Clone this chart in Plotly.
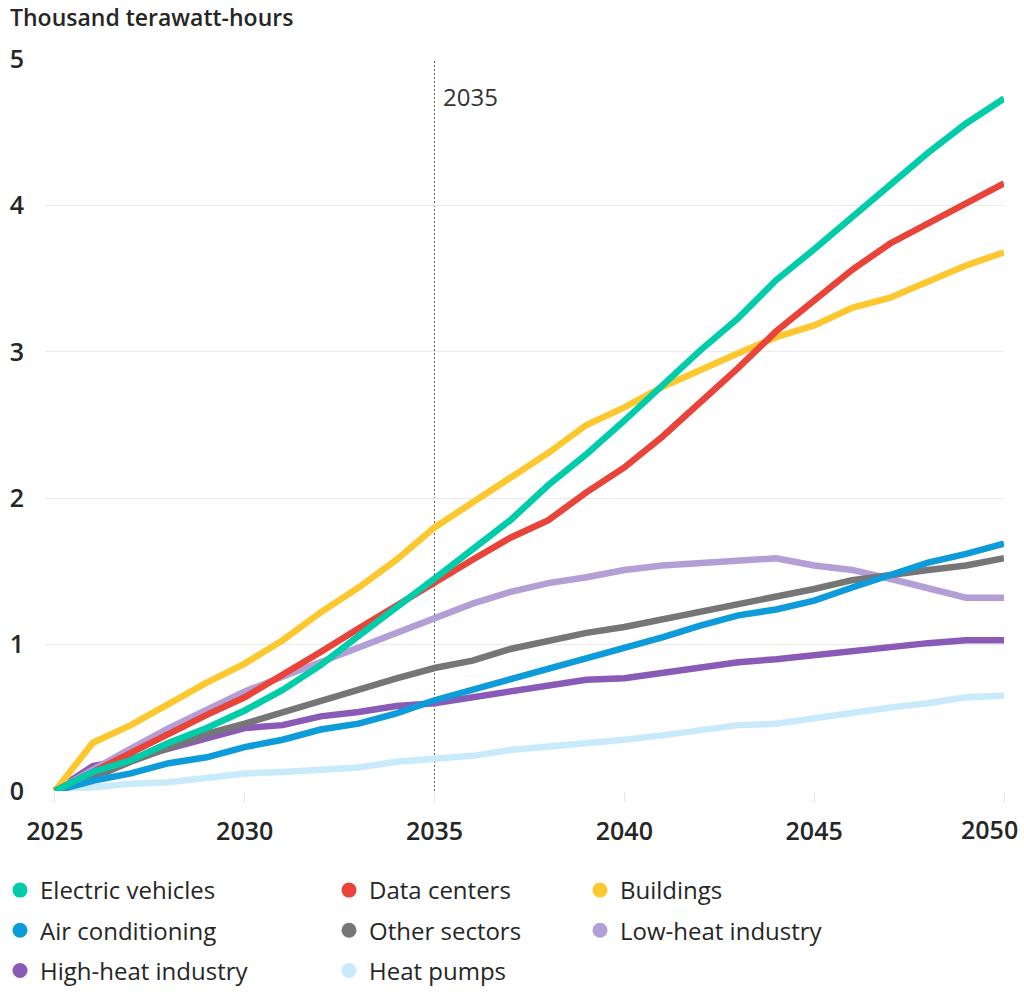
import plotly.graph_objects as go

years = list(range(2025, 2051))
tick_years = [2025, 2030, 2035, 2040, 2045, 2050]
tick_labels = ["2025", "2030", "2035", "2040", "2045", ""]   # 2050 label drawn as annotation (kept inside page)
y_ticks = [0, 1, 2, 3, 4, 5]

electric_vehicles = [0, 0.13, 0.21, 0.33, 0.43, 0.55, 0.69, 0.86, 1.06, 1.25, 1.45, 1.65, 1.85, 2.09, 2.30, 2.53,
                     2.77, 3.01, 3.23, 3.49, 3.70, 3.92, 4.14, 4.36, 4.56, 4.73]
data_centers = [0, 0.13, 0.27, 0.39, 0.52, 0.64, 0.79, 0.95, 1.11, 1.27, 1.42, 1.58, 1.73, 1.85, 2.04, 2.21,
                2.42, 2.65, 2.89, 3.14, 3.35, 3.56, 3.74, 3.88, 4.02, 4.15]
buildings = [0, 0.33, 0.45, 0.60, 0.74, 0.87, 1.03, 1.22, 1.39, 1.58, 1.80, 1.97, 2.14, 2.31, 2.50, 2.62,
             2.76, 2.88, 2.99, 3.10, 3.18, 3.30, 3.37, 3.48, 3.59, 3.68]
air_conditioning = [0, 0.07, 0.12, 0.19, 0.23, 0.30, 0.35, 0.42, 0.46, 0.53, 0.62, 0.69, 0.76, 0.83, 0.91, 0.98,
                    1.05, 1.13, 1.20, 1.24, 1.30, 1.39, 1.48, 1.56, 1.62, 1.69]
other_sectors = [0, 0.09, 0.20, 0.30, 0.39, 0.46, 0.54, 0.62, 0.70, 0.77, 0.84, 0.89, 0.97, 1.03, 1.08, 1.12,
                 1.17, 1.22, 1.27, 1.33, 1.38, 1.44, 1.48, 1.51, 1.54, 1.59]
low_heat_industry = [0, 0.15, 0.29, 0.43, 0.55, 0.68, 0.78, 0.88, 0.98, 1.09, 1.18, 1.28, 1.36, 1.42, 1.46, 1.51,
                     1.54, 1.56, 1.57, 1.59, 1.54, 1.51, 1.45, 1.39, 1.32, 1.32]
high_heat_industry = [0, 0.17, 0.22, 0.29, 0.36, 0.43, 0.45, 0.51, 0.54, 0.58, 0.60, 0.64, 0.68, 0.73, 0.76, 0.77,
                      0.81, 0.85, 0.88, 0.90, 0.93, 0.96, 0.98, 1.01, 1.03, 1.03]
heat_pumps = [0, 0.03, 0.05, 0.06, 0.09, 0.12, 0.13, 0.14, 0.16, 0.20, 0.22, 0.24, 0.28, 0.30, 0.33, 0.35,
              0.38, 0.42, 0.45, 0.46, 0.50, 0.53, 0.57, 0.60, 0.64, 0.65]

series = [
    ("Heat pumps", heat_pumps, "#c9eafa"),
    ("High-heat industry", high_heat_industry, "#8a5ab7"),
    ("Low-heat industry", low_heat_industry, "#b49ed6"),
    ("Other sectors", other_sectors, "#767676"),
    ("Air conditioning", air_conditioning, "#0e9bd9"),
    ("Buildings", buildings, "#fdc82f"),
    ("Data centers", data_centers, "#e8443a"),
    ("Electric vehicles", electric_vehicles, "#00cca9"),
]
colors = {n: c for n, _, c in series}

legend_columns = [
    ["Electric vehicles", "Air conditioning", "High-heat industry"],
    ["Data centers", "Other sectors", "Heat pumps"],
    ["Buildings", "Low-heat industry"],
]

FONT = "Open Sans"
TEXT = "#262626"

fig = go.Figure()
for name, vals, col in series:
    fig.add_trace(go.Scatter(x=years, y=vals, mode="lines", name=name,
                             line=dict(color=col, width=6.5), showlegend=False,
                             hoverinfo="skip"))

legend_ids = ["legend", "legend2", "legend3"]
for lid, names in zip(legend_ids, legend_columns):
    for name in names:
        fig.add_trace(go.Scatter(x=[None], y=[None], mode="markers", name=name,
                                 marker=dict(color=colors[name], size=15),
                                 legend=lid, legendgroup=name, showlegend=True))

legend_common = dict(orientation="v", xref="container", yref="container",
                     yanchor="top", y=0.1285, xanchor="left",
                     font=dict(family=FONT, size=24, color=TEXT, weight=500),
                     tracegroupgap=6, bgcolor="rgba(0,0,0,0)", itemsizing="trace")

fig.update_layout(
    width=1024, height=996,
    margin=dict(l=45, r=20, t=59, b=205, autoexpand=False),
    paper_bgcolor="white", plot_bgcolor="white",
    font=dict(family=FONT, color=TEXT),
    xaxis=dict(range=[2024.74, 2050], tickvals=tick_years, ticktext=tick_labels,
               showgrid=False, zeroline=False, showline=False, automargin=False,
               ticks="outside", ticklen=11, tickcolor="#e6e6e6", tickwidth=1,
               ticklabelstandoff=7,
               tickfont=dict(family=FONT, size=25, color=TEXT, weight=600)),
    yaxis=dict(range=[0, 5], tickvals=y_ticks, showgrid=True, gridcolor="#ebebeb",
               gridwidth=1, zeroline=False, showline=False, ticks="", ticklabelstandoff=20,
               automargin=False,
               tickfont=dict(family=FONT, size=25, color=TEXT, weight=600)),
    legend=dict(x=0.0, **legend_common),
    legend2=dict(x=0.3213, **legend_common),
    legend3=dict(x=0.5664, **legend_common),
    shapes=[dict(type="line", xref="x", yref="paper", x0=2035, x1=2035, y0=0, y1=1,
                 line=dict(color="#5e5e5e", width=1, dash="2px,2px"), layer="below")],
    annotations=[
        dict(text="Thousand terawatt-hours", xref="paper", yref="paper", x=0, y=1,
             xanchor="left", yanchor="middle", xshift=-37, yshift=42, showarrow=False,
             font=dict(family=FONT, size=23, color=TEXT, weight=600)),
        dict(text="2035", xref="x", yref="paper", x=2035, y=1, xanchor="left", yanchor="middle",
             xshift=6, yshift=-37, showarrow=False,
             font=dict(family=FONT, size=24, color="#333333", weight=500)),
        dict(text="2050", xref="x", yref="paper", x=tick_years[-1], y=0, xanchor="center",
             yanchor="middle", xshift=-15, yshift=-38, showarrow=False,
             font=dict(family=FONT, size=25, color=TEXT, weight=600)),
    ],
)

fig.write_html("out.html")
